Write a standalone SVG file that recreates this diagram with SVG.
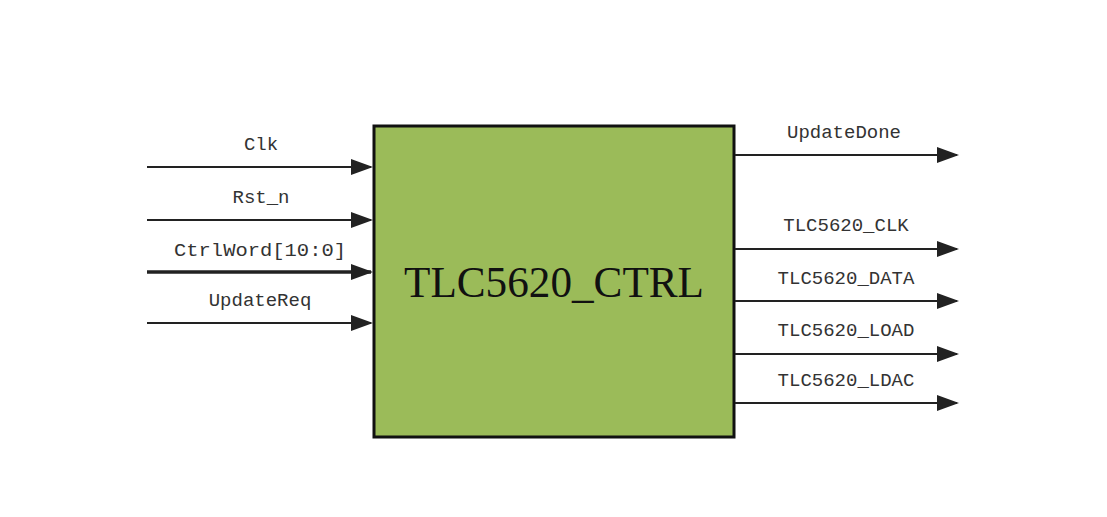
<svg xmlns="http://www.w3.org/2000/svg" width="1107" height="517" viewBox="0 0 1107 517">
<style>
.l{font-family:"Liberation Mono",monospace;font-size:19px;fill:#333;text-anchor:middle}
.w{stroke:#222;stroke-width:2;fill:none}
</style>
<defs><marker id="b" markerWidth="22" markerHeight="16" refX="20" refY="8" orient="auto" markerUnits="userSpaceOnUse"><path d="M0,0 L22,8 L0,16 Z" fill="#222"/></marker></defs>
<rect width="1107" height="517" fill="#fff"/>
<g id="ctrl"><rect x="374" y="126" width="360" height="311" fill="#9BBB59" stroke="#111" stroke-width="3"/>
<text x="554" y="297" font-family="Liberation Serif,serif" font-size="44" fill="#111" text-anchor="middle" textLength="300" lengthAdjust="spacingAndGlyphs">TLC5620_CTRL</text></g>
<g id="connectors">
<path class="w" d="M147,167H371" marker-end="url(#b)"/>
<path class="w" d="M147,220H371" marker-end="url(#b)"/>
<path class="w" d="M147,272H371" style="stroke-width:3.5" marker-end="url(#b)"/>
<path class="w" d="M147,323H371" marker-end="url(#b)"/>
<path class="w" d="M735,155H957" marker-end="url(#b)"/>
<path class="w" d="M735,249H957" marker-end="url(#b)"/>
<path class="w" d="M735,301H957" marker-end="url(#b)"/>
<path class="w" d="M735,354H957" marker-end="url(#b)"/>
<path class="w" d="M735,403H957" marker-end="url(#b)"/>
</g>
<g id="labels">
<text class="l" x="261" y="150">Clk</text>
<text class="l" x="261" y="203">Rst_n</text>
<text class="l" x="260" y="256" textLength="172" lengthAdjust="spacingAndGlyphs">CtrlWord[10:0]</text>
<text class="l" x="260" y="306">UpdateReq</text>
<text class="l" x="844" y="138">UpdateDone</text>
<text class="l" x="846" y="231">TLC5620_CLK</text>
<text class="l" x="846" y="284">TLC5620_DATA</text>
<text class="l" x="846" y="336">TLC5620_LOAD</text>
<text class="l" x="846" y="386">TLC5620_LDAC</text>
</g>
</svg>
